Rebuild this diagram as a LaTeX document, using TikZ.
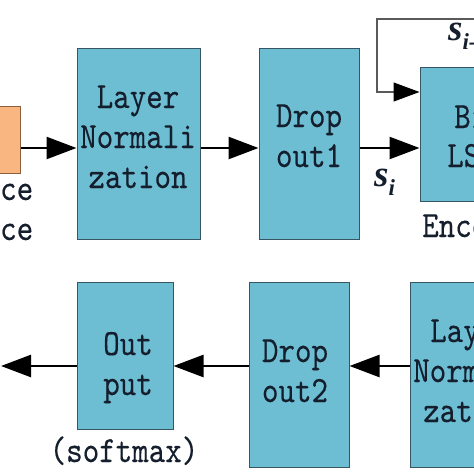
\documentclass[tikz,border=0pt]{standalone}
\usepackage{fontspec}
\usetikzlibrary{arrows.meta}
\newfontfamily\boxfont{lmmono10-regular.otf}[FakeStretch=0.85,FakeBold=0.3]
\newfontfamily\symfont{Liberation Serif}
\definecolor{boxfill}{RGB}{110,190,211}
\definecolor{boxline}{RGB}{55,85,100}
\definecolor{srcfill}{RGB}{250,182,128}
\definecolor{srcline}{RGB}{140,95,60}
\definecolor{txtcol}{RGB}{20,30,45}
\newcommand{\subidx}[1]{\raisebox{-9pt}{\fontsize{23}{23}\selectfont #1}}
\begin{document}
\begin{tikzpicture}[x=1pt,y=-1pt,
        blk/.style={draw=boxline, fill=boxfill, line width=1pt, inner sep=0pt},
        lbl/.style={font=\fontsize{37}{40}\boxfont, text=txtcol, inner sep=0pt, align=center},
        sym/.style={font=\fontsize{37}{40}\symfont\bfseries\itshape, text=txtcol, inner sep=0pt},
        arr/.style={-{Triangle[length=30pt,width=22pt]}, line width=2.5pt},
        fbk/.style={draw=black!65, line width=1.2pt, -{Triangle[length=26pt,width=19pt,color=black]}}]
        \useasboundingbox (0,0) rectangle (474,474);
        \clip (0,0) rectangle (474,474);

        % blocks
        \node[blk, fill=srcfill, draw=srcline, minimum width=60pt, minimum height=67pt] (src) at (-10,139.5) {};
        \node[blk, minimum width=123pt, minimum height=191pt] (ln1) at (138.5,143.5) {};
        \node[blk, minimum width=100pt, minimum height=191pt] (do1) at (309,143.5) {};
        \node[blk, minimum width=120pt, minimum height=134pt] (lstm) at (480,134) {};
        \node[blk, minimum width=96pt, minimum height=147pt] (out) at (125,355.5) {};
        \node[blk, minimum width=100pt, minimum height=185pt] (do2) at (299,374.5) {};
        \node[blk, minimum width=123pt, minimum height=185pt] (ln2) at (471.5,374.5) {};

        % texts (base = last line)
        \node[lbl, anchor=base west] (srct) at (0,240) {ce\\ce};
        \node[lbl, anchor=base] (ln1t) at (138,188) {Layer\\Normali\\zation};
        \node[lbl, anchor=base] (do1t) at (309,167) {Drop\\out1};
        \node[lbl, anchor=base west] (lstma) at (454,128) {Bi};
        \node[lbl, anchor=base west] (lstmb) at (447,167) {LS};
        \node[lbl, anchor=base west] (enct) at (422,237) {Enco};
        \node[sym, anchor=base west] (si) at (374,186) {s\subidx{i}};
        \node[sym, anchor=base west] (sprev) at (448,40) {s\subidx{i-}};
        \node[lbl, anchor=base] (outt) at (128,395) {Out\\put};
        \node[lbl, anchor=base] (smax) at (124,462) {(softmax)};
        \node[lbl, anchor=base] (do2t) at (295,402) {Drop\\out2};
        \node[lbl, anchor=base west] (ln2a) at (430,342) {Lay};
        \node[lbl, anchor=base west] (ln2b) at (413,382) {Norm};
        \node[lbl, anchor=base west] (ln2c) at (423,422) {zat};

        % connectors
        \coordinate (toprow) at (0,148);
        \coordinate (botrow) at (0,366);
        \coordinate (exit) at (1,366);
        \coordinate (fbin) at (500,19);
        \coordinate (fbcorner) at (377,19);
        \coordinate (fbrow) at (0,92);
        \draw[arr] (src.east |- toprow) -- (ln1.west |- toprow);
        \draw[arr] (ln1.east |- toprow) -- (do1.west |- toprow);
        \draw[arr] (do1.east |- toprow) -- (lstm.west |- toprow);
        \draw[fbk] (fbin) -- (fbcorner) |- (lstm.west |- fbrow);
        \draw[arr] (ln2.west |- botrow) -- (do2.east |- botrow);
        \draw[arr] (do2.west |- botrow) -- (out.east |- botrow);
        \draw[arr] (out.west |- botrow) -- (exit);

\end{tikzpicture}
\end{document}
